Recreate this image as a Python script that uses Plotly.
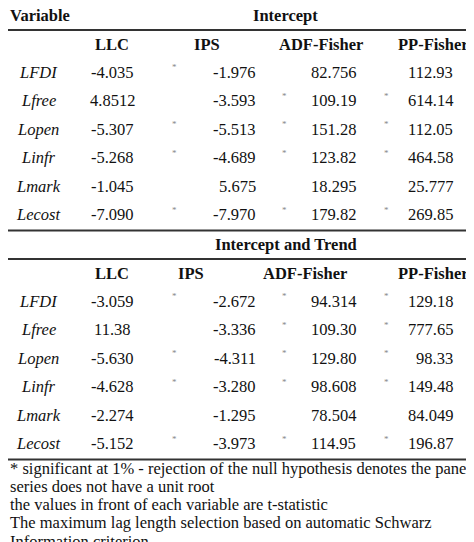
import plotly.graph_objects as go

variables = ["LFDI", "Lfree", "Lopen", "Linfr", "Lmark", "Lecost"]
tests = ["LLC", "IPS", "ADF-Fisher", "PP-Fisher"]
int_llc = ["-4.035", "4.8512", "-5.307", "-5.268", "-1.045", "-7.090"]
int_ips = ["-1.976", "-3.593", "-5.513", "-4.689", "5.675", "-7.970"]
int_adf = ["82.756", "109.19", "151.28", "123.82", "18.295", "179.82"]
int_pp = ["112.93", "614.14", "112.05", "464.58", "25.777", "269.85"]
int_sig = [[1, 0, 0, 1], [0, 1, 1, 1], [1, 1, 1, 1], [1, 1, 1, 1], [0, 0, 0, 0], [1, 1, 1, 1]]
tr_llc = ["-3.059", "11.38", "-5.630", "-4.628", "-2.274", "-5.152"]
tr_ips = ["-2.672", "-3.336", "-4.311", "-3.280", "-1.295", "-3.973"]
tr_adf = ["94.314", "109.30", "129.80", "98.608", "78.504", "114.95"]
tr_pp = ["129.18", "777.65", "98.33", "149.48", "84.049", "196.87"]
tr_sig = [[1, 1, 1, 1], [0, 1, 1, 1], [1, 1, 1, 1], [1, 1, 1, 1], [0, 0, 0, 0], [1, 1, 1, 1]]
notes = ["* significant at 1% - rejection of the null hypothesis denotes the panel",
         "series does not have a unit root",
         "the values in front of each variable are t-statistic",
         "The maximum lag length selection based on automatic Schwarz",
         "Information criterion"]

F = "Liberation Serif"
fig = go.Figure()
ann = []
shapes = []

def txt(x, y, t, size=16.5, bold=False, italic=False, xanchor="center", color="#111"):
    s = t
    if bold: s = "<b>" + s + "</b>"
    if italic: s = "<i>" + s + "</i>"
    ann.append(dict(x=x, y=y, text=s, xref="x", yref="y", showarrow=False,
                    xanchor=xanchor, yanchor="middle",
                    font=dict(family=F, size=size, color=color)))

def hline(y, w=2):
    shapes.append(dict(type="line", x0=0, x1=474, y0=y, y1=y, xref="x", yref="y",
                       line=dict(color="#333", width=w)))

def block(y0, title, tx, hx, llc, ips, adf, pp, sig):
    txt(tx, y0, title, bold=True)
    hline(y0 + 15)
    for t, x in zip(tests, hx):
        txt(x, y0 + 29, t, bold=True)
    ys = [y0 + 57 + i * 28.5 for i in range(6)]
    starx = [166, 276, 378, 470]
    for i, y in enumerate(ys):
        txt(30, y, variables[i], italic=True)
        txt(104, y, llc[i])
        txt(250, y, ips[i], xanchor="right")
        txt(350, y, adf[i], xanchor="right")
        txt(447, y, pp[i], xanchor="right")
        for j in range(4):
            if sig[i][j]:
                txt(starx[j], y - 5, "*", size=9, color="#888")
    return ys[-1]

txt(0, 7, "Variable", bold=True, xanchor="left")
last = block(7, "Intercept", 277, [104, 199, 313, 425], int_llc, int_ips, int_adf, int_pp, int_sig)
hline(last + 16)
last = block(236, "Intercept and Trend", 278, [104, 183, 297, 425], tr_llc, tr_ips, tr_adf, tr_pp, tr_sig)
hline(last + 16)
for k, n in enumerate(notes):
    txt(0, 460 + k * 18.3, n, xanchor="left")

fig.update_layout(width=474, height=542, margin=dict(l=0, r=0, t=0, b=0),
                  paper_bgcolor="white", plot_bgcolor="white",
                  xaxis=dict(range=[0, 474], visible=False, fixedrange=True),
                  yaxis=dict(range=[542, 0], visible=False, fixedrange=True),
                  annotations=ann, shapes=shapes, showlegend=False)
fig.write_html("out.html")
